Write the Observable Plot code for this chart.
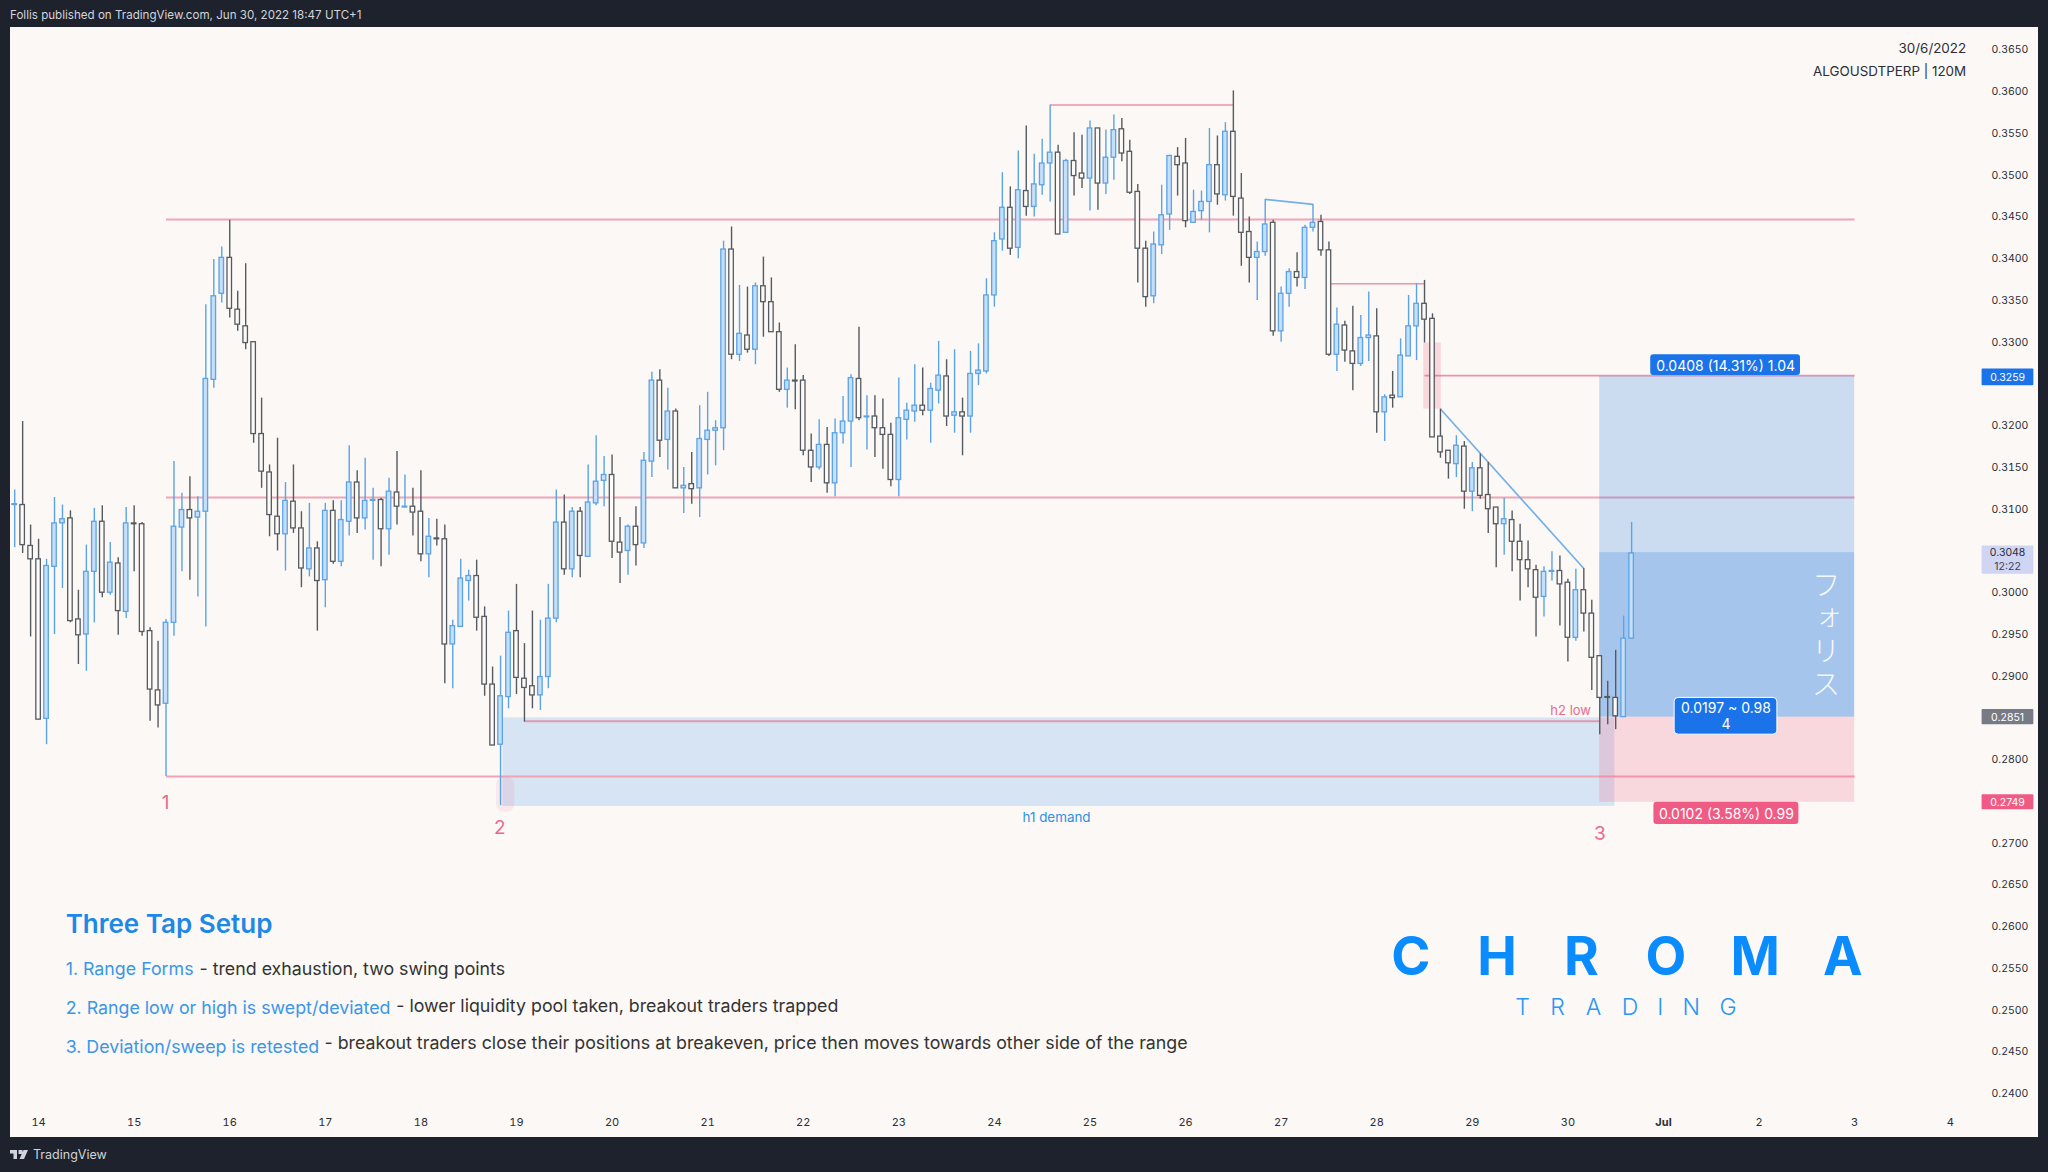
<!DOCTYPE html>
<html>
<head>
<meta charset="utf-8">
<script src="https://cdn.jsdelivr.net/npm/d3@7"></script>
<script src="https://cdn.jsdelivr.net/npm/@observablehq/plot@0.6"></script>
<style>
  html,body{margin:0;padding:0;background:#1e222d;width:2048px;height:1172px;overflow:hidden;font-family:Inter,sans-serif}
  #head{height:27px;line-height:31px;padding-left:10px;color:#d1d4dc;font-size:11.6px;box-sizing:border-box}
  #chart{margin-left:10px;width:2028px;height:1110px}
  #chart svg{display:block}
  #foot{height:35px;display:flex;align-items:center;padding-left:10px;color:#d1d4dc;font-size:12.5px;gap:5px;box-sizing:border-box}
  .vertical-label text{writing-mode:vertical-rl;text-orientation:upright;letter-spacing:4px}
</style>
</head>
<body>
<div id="head">Follis published on TradingView.com, Jun 30, 2022 18:47 UTC+1</div>
<div id="chart"></div>
<div id="foot"><svg width="18" height="10" viewBox="0 0 36 20"><path fill="#d1d4dc" d="M0 0h14v18H7V7H0zM17 0h8v8h-8zM27 0h9l-8 18h-9z"/></svg><span>TradingView</span></div>
<script>
// Prices are in units of 0.0001, one 2-hour candle per entry, starting 13 Jun 2022 18:00
const opens = [
3105,3105,3056,3040,2849,3031,3083,3089,2968,2950,
3025,3085,3000,3035,2977,3083,3082,2954,2883,2867,
2964,3078,3099,3090,3097,3255,3358,3401,3339,3319,
3300,3190,3144,3091,3070,3109,3077,3028,3053,3015,
3098,3037,3085,3132,3089,3110,3111,3076,3120,3102,
3103,3097,3046,3065,3064,2938,2959,3014,3020,2971,
2890,2818,2875,2954,2897,2888,2877,2899,2969,3084,
3028,3097,3043,3107,3134,3141,3060,3050,3079,3059,
3157,3254,3183,3217,3125,3130,3125,3183,3194,3197,
3411,3285,3308,3291,3367,3348,3312,3243,3254,3254,
3170,3150,3177,3131,3191,3205,3256,3210,3211,3197,
3189,3135,3207,3217,3224,3218,3242,3259,3212,3216,
3211,3262,3265,3356,3423,3461,3413,3481,3462,3488,
3514,3527,3431,3517,3502,3496,3556,3490,3521,3555,
3528,3480,3412,3355,3416,3453,3522,3514,3443,3457,
3468,3512,3476,3552,3472,3432,3401,3408,3443,3313,
3358,3384,3377,3437,3444,3410,3285,3320,3289,3274,
3305,3307,3216,3236,3234,3283,3319,3346,3328,3187,
3170,3154,3175,3121,3149,3117,3102,3082,3087,3061,
3039,3027,2995,3025,3026,3012,2946,3003,2975,2924,
2875,2874,2851,2945];
const closes = [
3106,3057,3040,2848,3032,3083,3088,2966,2949,3025,
3085,3000,3036,2978,3083,3082,2953,2884,2865,2964,
3079,3099,3089,3097,3256,3355,3401,3340,3321,3299,
3190,3145,3093,3070,3110,3077,3029,3053,3014,3098,
3037,3087,3132,3089,3110,3111,3076,3121,3103,3103,
3096,3046,3067,3064,2938,2960,3017,3020,2970,2890,
2817,2876,2952,2898,2886,2877,2899,2969,3084,3028,
3097,3044,3108,3133,3141,3061,3048,3079,3057,3158,
3254,3182,3217,3125,3128,3124,3184,3194,3197,3411,
3285,3310,3291,3367,3348,3312,3243,3254,3253,3170,
3150,3177,3131,3191,3205,3257,3209,3211,3197,3189,
3135,3209,3218,3224,3218,3244,3260,3211,3216,3211,
3262,3266,3356,3421,3461,3412,3482,3462,3489,3514,
3527,3429,3517,3499,3496,3556,3490,3521,3554,3526,
3479,3412,3354,3417,3452,3523,3512,3445,3456,3468,
3512,3477,3552,3474,3431,3401,3408,3441,3313,3358,
3384,3377,3437,3443,3410,3285,3321,3290,3274,3305,
3308,3216,3234,3233,3284,3319,3346,3327,3186,3168,
3155,3176,3121,3149,3116,3100,3082,3088,3061,3039,
3028,2994,3025,3026,3010,2946,3003,2975,2922,2874,
2874,2852,2945,3047];
const highs = [
3123,3205,3081,3064,3040,3114,3105,3098,3003,3057,
3101,3104,3060,3042,3102,3104,3084,2958,2942,2968,
3157,3119,3139,3115,3345,3399,3414,3446,3361,3394,
3300,3233,3153,3185,3132,3153,3097,3107,3061,3107,
3110,3110,3176,3146,3161,3125,3113,3137,3169,3141,
3125,3146,3089,3088,3081,2967,3040,3027,3039,2983,
2911,2924,2978,3010,2939,2978,2967,3010,3123,3117,
3102,3102,3153,3188,3163,3165,3090,3081,3103,3168,
3264,3267,3245,3220,3150,3168,3224,3240,3206,3421,
3438,3368,3366,3371,3402,3377,3323,3269,3297,3260,
3190,3207,3198,3208,3235,3261,3318,3236,3236,3232,
3203,3257,3227,3273,3269,3251,3301,3279,3291,3233,
3289,3298,3376,3431,3503,3486,3529,3559,3525,3543,
3584,3536,3519,3551,3548,3565,3556,3554,3572,3568,
3542,3489,3421,3432,3488,3524,3533,3544,3482,3481,
3556,3547,3563,3601,3502,3450,3420,3471,3446,3366,
3388,3407,3440,3465,3452,3420,3341,3325,3343,3332,
3360,3340,3237,3265,3304,3356,3370,3374,3334,3220,
3170,3188,3181,3156,3166,3156,3102,3113,3098,3082,
3062,3033,3031,3049,3044,3016,3028,3029,2991,2924,
2894,2931,2972,3084];
const lows = [
3054,3047,2947,2848,2818,2950,3005,2964,2914,2906,
2964,2994,2997,2949,2969,3025,2948,2846,2838,2780,
2948,3025,3015,2995,2959,3245,3347,3329,3313,3291,
3179,3125,3067,3050,3026,3071,3006,3019,2954,2982,
3034,3031,3068,3071,3075,3039,3031,3045,3081,3102,
3068,3037,3018,3056,2891,2885,2959,2990,2954,2876,
2817,2745,2861,2878,2845,2861,2859,2885,2964,3021,
3018,3018,3043,3104,3103,3041,3011,3021,3032,3053,
3138,3162,3147,3125,3095,3106,3090,3141,3152,3170,
3279,3277,3287,3273,3306,3312,3240,3221,3219,3164,
3132,3147,3119,3115,3178,3150,3206,3171,3162,3148,
3127,3115,3183,3204,3212,3179,3226,3199,3191,3164,
3191,3248,3262,3342,3409,3404,3400,3451,3450,3476,
3468,3429,3431,3475,3484,3457,3458,3477,3494,3516,
3477,3371,3342,3346,3405,3434,3475,3437,3443,3446,
3431,3464,3469,3451,3391,3371,3350,3403,3307,3300,
3342,3366,3363,3432,3403,3283,3265,3276,3242,3271,
3277,3191,3181,3221,3234,3283,3278,3299,3186,3161,
3136,3138,3100,3097,3112,3071,3030,3045,3025,2990,
3006,2947,2971,3014,2960,2917,2942,2953,2883,2830,
2842,2836,2851,2945];

const yTicks = [0.24,0.245,0.25,0.255,0.26,0.265,0.27,0.28,0.29,0.295,0.30,0.31,0.315,0.32,0.33,0.335,0.34,0.345,0.35,0.355,0.36,0.365];
const dayNumbers = [14,15,16,17,18,19,20,21,22,23,24,25,26,27,28,29,30];
const julyNumbers = [2,3,4];

// annotation tables: x positions are candle numbers, prices in 0.0001
const rangeLines = [[19,231,3447],[19,231,3114],[19,231,2780]];
const pinkSegments = [[130,153,3584,3584],[165,177,3370,3370],[177,231,3260,3260]];
const blueSegments = [[157,163,3471,3465],[179,197,3220,3029]];
const h2Low = [[64,199,2846,2846]];
const pad = (a,b,c,d,fill,op,rx) => ({a,b,c,d,fill,op,rx});
const zones = [
  pad(61.3,200.9,2744,2850,"#2a80f0",0.17,0),
];
const overZones = [
  pad(199,231,2851,3259,"#2a7fe0",0.23,0),
  pad(199,231,2851,3048,"#2a7fe0",0.23,0),
  pad(199,231,2749,2851,"#f0567f",0.2,0),
  pad(176.9,179.1,3220,3299,"#f0567f",0.2,0),
  pad(60.5,62.8,2737,2779,"#f0567f",0.1,8),
];
const badges = [
  pad(205.4,224.2,3260,3285,"#1a73e8",1,3),
  pad(205.8,224,2722.5,2749,"#ef5b85",1,3),
  pad(247,253.5,3248,3268,"#1a73e8",1,1),
  pad(247,253.5,3022,3056,"#cfd5f3",1,1),
  pad(247,253.5,2842,2860,"#787b86",1,1),
  pad(247,253.5,2740,2758,"#ef5b85",1,1),
];
const stopBadge = [pad(208.4,221.3,2830,2874,"#1a73e8",1,4)];
const badgeTexts = [
  [214.8,3272,"0.0408 (14.31%) 1.04","#fff"],
  [214.9,2735.5,"0.0102 (3.58%) 0.99","#fff"],
  [214.85,2852,"0.0197 ~ 0.98\n4","#fff"],
];
const axisBadgeTexts = [
  [250.2,3258,"0.3259","#fff"],
  [250.2,3048,"0.3048","#2a2e39"],
  [250.2,3031,"12:22","#3d4250"],
  [250.2,2851,"0.2851","#fff"],
  [250.2,2749,"0.2749","#fff"],
];
const pinkLabels = [[18.96,2748,"1"],[60.9,2718,"2"],[199,2711,"3"]];
const chromaLetters = [["C",175.3],["H",186.1],["R",196.7],["O",207.3],["M",218.5],["A",229.5]];
const tradingLetters = [["T",189.3],["R",193.7],["A",198.2],["D",202.8],["I",206.6],["N",210.5],["G",215.1]];
const notesBlue = [[6.4,2549,"1. Range Forms"],[6.4,2502.5,"2. Range low or high is swept/deviated"],[6.4,2456,"3. Deviation/sweep is retested"]];
const notesDark = [[23.2,2549,"- trend exhaustion, two swing points"],[47.9,2505,"- lower liquidity pool taken, breakout traders trapped"],[38.9,2460,"- breakout traders close their positions at breakeven, price then moves towards other side of the range"]];

const T0 = Date.UTC(2022,5,13,18);
const HOUR = 3600e3;
const t = i => new Date(T0 + i*2*HOUR);
const p = v => v/1e4;
const BLUE = "#5ba3e6", DARK = "#555a60";
const candles = opens.map((o,i)=>({
  t:t(i), open:p(o), close:p(closes[i]), high:p(highs[i]), low:p(lows[i]),
  up:closes[i]>=o
}));
const half = 34*60e3;
const dayTicks = dayNumbers.map(d=>new Date(Date.UTC(2022,5,d)));
const julTicks = julyNumbers.map(d=>new Date(Date.UTC(2022,6,d)));
const rectMark = (data)=>Plot.rect(data,{
  x1:d=>t(d.a),x2:d=>t(d.b),y1:d=>p(d.c),y2:d=>p(d.d),
  fill:d=>d.fill,fillOpacity:d=>d.op,r:data[0].rx
});
const seg = (data,stroke,sw)=>Plot.link(data,{
  x1:d=>t(d[0]),x2:d=>t(d[1]),y1:d=>p(d[2]),y2:d=>p(d[3]),stroke,strokeWidth:sw
});
const F="Inter, sans-serif";

const chart = Plot.plot({
  width:2028,height:1110,
  marginLeft:0,marginRight:60,marginTop:0,marginBottom:24,
  x:{type:"utc",domain:[new Date(T0-1.05*HOUR),new Date(T0+493.1*HOUR)],axis:null},
  y:{type:"linear",domain:[0.23763,0.36769],axis:null},
  style:{background:"#fbf8f5",fontFamily:F,overflow:"visible"},
  marks:[
    Plot.axisY(yTicks,{anchor:"right",tickSize:0,tickPadding:13,tickFormat:d3.format(".4f"),fontSize:10.5,color:"#2a2e39",label:null}),
    Plot.axisX(dayTicks,{anchor:"bottom",tickSize:0,tickPadding:5,tickFormat:d=>String(d.getUTCDate()),fontSize:11,color:"#2a2e39",label:null}),
    Plot.axisX(julTicks,{anchor:"bottom",tickSize:0,tickPadding:5,tickFormat:d=>String(d.getUTCDate()),fontSize:11,color:"#2a2e39",label:null}),
    Plot.axisX([new Date(Date.UTC(2022,6,1))],{anchor:"bottom",tickSize:0,tickPadding:5,tickFormat:()=>"Jul",fontSize:11,fontWeight:700,color:"#2a2e39",label:null}),
    rectMark(zones),
    Plot.link(rangeLines,{x1:d=>t(d[0]),x2:d=>t(d[1]),y1:d=>p(d[2]),y2:d=>p(d[2]),stroke:"#f2a3b6",strokeWidth:2}),
    seg(pinkSegments,"#ee92a8",1.6),
    seg(h2Low,"#dc9ab4",2),
    rectMark([overZones[0]]),rectMark([overZones[1]]),rectMark([overZones[2]]),rectMark([overZones[3]]),rectMark([overZones[4]]),
    seg(blueSegments,"#73b0e8",1.7),
    Plot.ruleX(candles,{x:"t",y1:"low",y2:"high",stroke:d=>d.up?BLUE:DARK,strokeWidth:1.4}),
    Plot.rect(candles,{
      x1:d=>new Date(+d.t-half),x2:d=>new Date(+d.t+half),
      y1:"open",y2:"close",
      fill:d=>d.up?"#c5dff8":"#fdfaf7",stroke:d=>d.up?BLUE:DARK,strokeWidth:1.3
    }),
    rectMark(badges.slice(0,1)),rectMark(badges.slice(1,2)),
    rectMark(badges.slice(2,3)),rectMark(badges.slice(3,4)),rectMark(badges.slice(4,5)),rectMark(badges.slice(5,6)),
    Plot.rect(stopBadge,{x1:d=>t(d.a),x2:d=>t(d.b),y1:d=>p(d.c),y2:d=>p(d.d),fill:d=>d.fill,stroke:"#fff",strokeWidth:1,r:4}),
    Plot.text(badgeTexts,{x:d=>t(d[0]),y:d=>p(d[1]),text:d=>d[2],fill:d=>d[3],fontSize:14,lineHeight:1.15}),
    Plot.text(axisBadgeTexts,{x:d=>t(d[0]),y:d=>p(d[1]),text:d=>d[2],fill:d=>d[3],fontSize:10.5}),
    Plot.text(pinkLabels,{x:d=>t(d[0]),y:d=>p(d[1]),text:d=>d[2],fill:"#e8698f",fontSize:19}),
    Plot.text([[197.9,2858,"h2 low"]],{x:d=>t(d[0]),y:d=>p(d[1]),text:d=>d[2],fill:"#ea6a90",fontSize:13,textAnchor:"end"}),
    Plot.text([[130.8,2730.5,"h1 demand"]],{x:d=>t(d[0]),y:d=>p(d[1]),text:d=>d[2],fill:"#2d8fe8",fontSize:13.4}),
    Plot.text([[227.4,2959,"フォリス"]],{x:d=>t(d[0]),y:d=>p(d[1]),text:d=>d[2],fill:"#fff",fillOpacity:0.9,fontSize:29,fontWeight:300,fontFamily:"'Noto Sans CJK JP'",className:"vertical-label"}),
    Plot.text([[245,3651,"30/6/2022"],[245,3624,"ALGOUSDTPERP | 120M"]],{x:d=>t(d[0]),y:d=>p(d[1]),text:d=>d[2],fill:"#2a2e39",fontSize:13.4,textAnchor:"end"}),
    Plot.text([[6.4,2602,"Three Tap Setup"]],{x:d=>t(d[0]),y:d=>p(d[1]),text:d=>d[2],fill:"#1e88e5",fontSize:26,fontWeight:600,textAnchor:"start"}),
    Plot.text(notesBlue,{x:d=>t(d[0]),y:d=>p(d[1]),text:d=>d[2],fill:"#3a96e8",fontSize:17.8,textAnchor:"start"}),
    Plot.text(notesDark,{x:d=>t(d[0]),y:d=>p(d[1]),text:d=>d[2],fill:"#333",fontSize:17.8,textAnchor:"start"}),
    Plot.text(chromaLetters,{x:d=>t(d[1]),y:()=>p(2562.5),text:d=>d[0],fill:"#0a8cff",fontSize:53,fontWeight:700}),
    Plot.text(tradingLetters,{x:d=>t(d[1]),y:()=>p(2503.5),text:d=>d[0],fill:"#2a96f5",fontSize:23,fontWeight:300}),
  ]
});
document.getElementById("chart").appendChild(chart);
</script>
</body>
</html>
